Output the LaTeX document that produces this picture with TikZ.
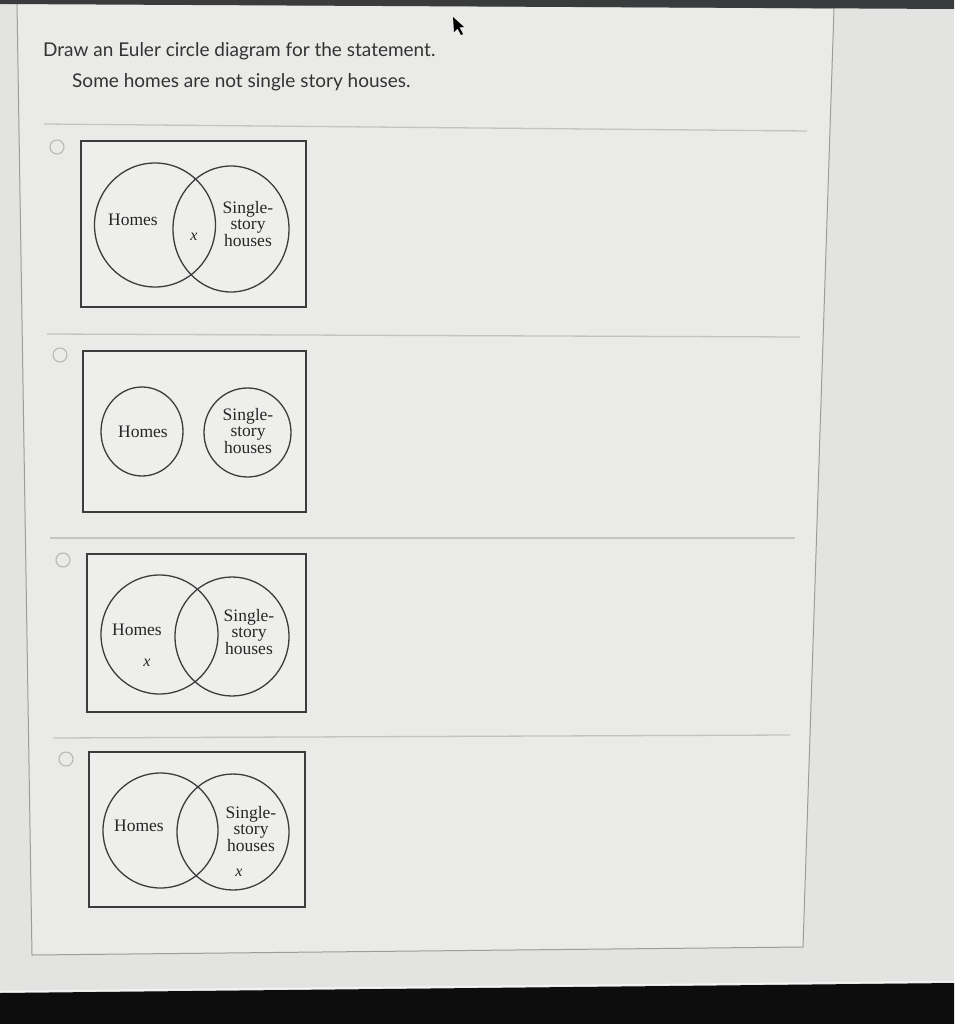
\documentclass[tikz,border=0pt]{standalone}
\usepackage{fontspec}
\setmainfont{Liberation Serif}
\newfontfamily\latofont{Lato}
\usetikzlibrary{shapes.geometric}
\definecolor{bgcol}{HTML}{E3E3E1}
\definecolor{panelcol}{HTML}{EAEAE8}
\definecolor{panelline}{HTML}{9C9C9C}
\definecolor{boxfill}{HTML}{EEEEEC}
\definecolor{diagline}{HTML}{3C3C3C}
\definecolor{diagtext}{HTML}{262626}
\definecolor{sepcol}{HTML}{C4C4C2}
\definecolor{radiocol}{HTML}{B4B4B4}
\definecolor{headcol}{HTML}{333333}
\definecolor{topcol}{HTML}{3A3B3D}
\begin{document}
\begin{tikzpicture}[x=1pt,y=-1pt,
  frame/.style={draw=diagline, fill=boxfill, line width=1.4pt},
  setc/.style={ellipse, draw=diagline, line width=1.3pt, inner sep=0pt},
  lbl/.style={font=\fontsize{17.5}{15.5}\selectfont, text=diagtext, align=center, inner sep=0pt},
  xmark/.style={font=\fontsize{16}{16}\selectfont\itshape, text=diagtext, inner sep=0pt},
  radio/.style={circle, draw=radiocol, line width=1pt, minimum size=14pt, inner sep=0pt},
  sep/.style={draw=sepcol, line width=1.3pt},
  header/.style={font=\latofont\fontsize{19}{22}\selectfont, text=headcol, anchor=base west, inner sep=0pt}]
\useasboundingbox (0,0) rectangle (954,1024);
\fill[bgcol] (0,0) rectangle (954,1024);
% panel
\filldraw[fill=panelcol, draw=panelline, line width=1pt] (17,3) -- (834,8) -- (803,947) -- (32,955) -- cycle;
% top strip
\fill[topcol] (0,0) -- (954,0) -- (954,9) -- (0,4) -- cycle;
% bottom band
\fill[black!95] (0,993) -- (954,983) -- (954,1024) -- (0,1024) -- cycle;
\draw[white!92!gray, line width=1.5pt] (0,991.5) -- (954,981.5);
% cursor
\fill[black] (453,17) -- (454,32) -- (457.5,28.5) -- (461,35) -- (463,34) -- (459.5,27.5) -- (464,27) -- cycle;
% header
\node[header] (q1) at (43,57) {Draw an Euler circle diagram for the statement.};
\node[header] (q2) at (72,88) {Some homes are not single story houses.};
% separators
\draw[sep] (44,124) -- (807,131);
\draw[sep] (47,334) -- (800,337);
\draw[sep] (50,538) -- (795,538);
\draw[sep] (53,738) -- (790,735);
% radio buttons
\node[radio] (r1) at (57,147) {};
\node[radio] (r2) at (60,355) {};
\node[radio] (r3) at (63,560) {};
\node[radio] (r4) at (66,759) {};
% option 1
\draw[frame] (81,141) rectangle (306,307);
\node[setc, minimum width=121pt, minimum height=124pt] (h1) at (155,225) {};
\node[setc, minimum width=116pt, minimum height=126pt] (s1) at (231,229) {};
\node[lbl] (h1t) at (133,220) {Homes};
\node[lbl] (s1t) at (248,224) {Single-\\story\\houses};
\node[xmark] (x1) at (194,237) {x};
% option 2
\draw[frame] (83,351) rectangle (306,512);
\node[setc, minimum width=82pt, minimum height=89pt] (h2) at (142,431.5) {};
\node[setc, minimum width=87pt, minimum height=89pt] (s2) at (247.5,432.5) {};
\node[lbl] (h2t) at (143,432) {Homes};
\node[lbl] (s2t) at (248,431) {Single-\\story\\houses};
% option 3
\draw[frame] (87,554) rectangle (306,712);
\node[setc, minimum width=117pt, minimum height=119pt] (h3) at (159.5,634.5) {};
\node[setc, minimum width=114pt, minimum height=119pt] (s3) at (232,636.5) {};
\node[lbl] (h3t) at (137,630) {Homes};
\node[lbl] (s3t) at (249,632) {Single-\\story\\houses};
\node[xmark] (x3) at (147,663) {x};
% option 4
\draw[frame] (89,752) rectangle (305,907);
\node[setc, minimum width=115pt, minimum height=115pt] (h4) at (160.5,830.5) {};
\node[setc, minimum width=112pt, minimum height=116pt] (s4) at (233,832) {};
\node[lbl] (h4t) at (139,826) {Homes};
\node[lbl] (s4t) at (251,829) {Single-\\story\\houses};
\node[xmark] (x4) at (239,873) {x};
\end{tikzpicture}
\end{document}
